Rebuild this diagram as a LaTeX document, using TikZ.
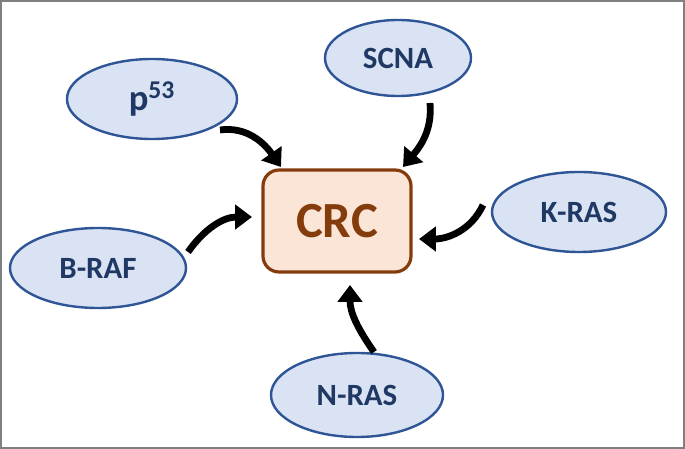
\documentclass[tikz,border=0pt]{standalone}
\usepackage{fontspec}
\setmainfont{Carlito}
\usetikzlibrary{arrows.meta,shapes.geometric,positioning}
\definecolor{gene}{HTML}{DAE3F3}
\definecolor{genedraw}{HTML}{2F5597}
\definecolor{genetext}{HTML}{1F3864}
\definecolor{crcfill}{HTML}{FBE5D6}
\definecolor{crcdraw}{HTML}{843C0C}
\begin{document}
\begin{tikzpicture}[x=0.25mm, y=0.25mm,
    gene/.style={ellipse, draw=genedraw, fill=gene, line width=0.6mm, text=genetext, font=\fontsize{22}{24}\selectfont\bfseries, inner sep=0pt},
    crc/.style={rectangle, rounded corners=4mm, draw=crcdraw, fill=crcfill, line width=0.8mm, text=crcdraw, minimum width=37mm, minimum height=25.5mm, font=\fontsize{36}{40}\selectfont\bfseries},
    bigarrow/.style={-{Triangle[width=6mm,length=4.2mm]}, line width=1.7mm, black}
]
% Rahmen
\draw[gray, line width=0.3mm] (1,1) rectangle (684,448);
\useasboundingbox (0,0) rectangle (685,449);

% Knoten
\node[crc] (crc) at (337,228) {CRC};
\node[gene, minimum width=42.5mm, minimum height=20mm] (p53) at (152,350) {\fontsize{26}{28}\selectfont p\textsuperscript{53}};
\node[gene, minimum width=36.5mm, minimum height=19mm] (scna) at (398,391) {SCNA};
\node[gene, minimum width=43.5mm, minimum height=20mm] (kras) at (579,237) {K-RAS};
\node[gene, minimum width=44mm, minimum height=20mm] (braf) at (98,181) {B-RAF};
\node[gene, minimum width=43mm, minimum height=21mm] (nras) at (357,54) {N-RAS};

% Endpunkte
\coordinate (p53-out) at (220,319);
\coordinate (p53-in) at (281,282);
\coordinate (scna-out) at (430,346);
\coordinate (scna-in) at (403,282);
\coordinate (kras-out) at (483,244);
\coordinate (kras-in) at (419,210);
\coordinate (braf-out) at (188,197);
\coordinate (braf-in) at (252,232);
\coordinate (nras-out) at (374,97);
\coordinate (nras-in) at (350,164);

% Pfeile
\draw[bigarrow] (p53-out) to[out=8,in=125] (p53-in);
\draw[bigarrow] (scna-out) to[out=-85,in=50] (scna-in);
\draw[bigarrow] (kras-out) to[out=-115,in=0] (kras-in);
\draw[bigarrow] (braf-out) to[out=55,in=180] (braf-in);
\draw[bigarrow] (nras-out) to[out=125,in=-90] (nras-in);
\end{tikzpicture}
\end{document}
